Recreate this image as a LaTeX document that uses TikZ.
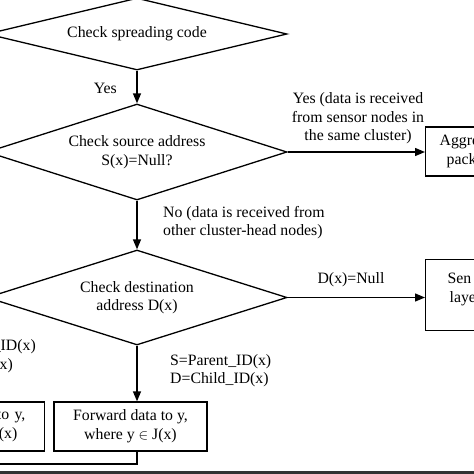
\documentclass[tikz,border=0pt]{standalone}
\usepackage{fontspec}
\setmainfont{Liberation Serif}
\usetikzlibrary{shapes.geometric,arrows.meta,calc}
\tikzset{
  dia/.style={draw, shape=diamond, minimum width=300pt, inner sep=0pt, line width=1.3pt},
  box/.style={draw, rectangle, line width=1.3pt},
  lbl/.style={inner sep=0pt},
  conn/.style={line width=1.3pt},
  arr/.style={line width=1.3pt, -{Triangle[length=10pt,width=8pt]}},
}
\begin{document}
\begin{tikzpicture}[x=1pt,y=-1pt, font=\fontsize{15.8}{18.6}\selectfont]
\useasboundingbox (0,0) rectangle (474,474);
\clip (0,0) rectangle (474,474);
\fill[white] (0,0) rectangle (474,474);
% decisions
\node[dia, aspect=4.17, minimum height=72pt] (d1) at (137,34) {\raisebox{3pt}{Check spreading code}};
\node[dia, aspect=3.125, minimum height=96pt, align=center] (d2) at (137,152) {Check source address\\S(x)=Null?};
\node[dia, aspect=3.16, minimum height=95pt, align=center] (d3) at (137,297.5) {Check destination\\address D(x)};
% boxes
\node[box, anchor=west, minimum height=49pt, text width=120pt, align=left, inner xsep=14pt] (agg) at (425,151.5) {Aggre\\\hspace*{7pt}pack};
\node[box, anchor=north west, minimum height=71pt, text width=120pt, align=left, inner xsep=22pt] (send) at (425,259) {Sen\\\hspace*{2pt}laye\\[-10pt]\strut};
\node[box, minimum width=153pt, minimum height=49pt, align=center, inner sep=0pt] (fwd) at (130.5,426.5) {Forward data to y,\\where y $\in$ J(x)};
\node[box, anchor=east, minimum height=49pt, text width=100pt, align=right, inner xsep=19pt] (lbox) at (45,426.5) {to y,\\(x)\rule{8pt}{0pt}};
% connectors
\draw[arr] (d1.south) -- (d2.north);
\draw[arr] (d2.east) -- (d2.east -| agg.west);
\draw[arr] (d2.south) -- (d3.north);
\draw[arr] (d3.east) -- (d3.east -| send.west);
\draw[arr] (d3.south) -- (d3.south |- fwd.north);
\coordinate (loopend) at (-10,464);
\draw[conn] (d3.south |- fwd.south) |- (loopend);
% labels
\node[lbl, anchor=east] (lyes) at (117,88) {Yes};
\node[lbl, align=center] (lyes2) at (358,118.5) {Yes (data is received\\from sensor nodes in\\the same cluster)};
\node[lbl, anchor=west, align=left] (lno) at (163,222.5) {No (data is received from\\other cluster-head nodes)};
\node[lbl] (ldnull) at (351,280) {D(x)=Null};
\node[lbl, anchor=west, align=left] (lsp) at (170,370.5) {S=Parent\_ID(x)\\D=Child\_ID(x)};
\node[lbl, anchor=east, align=right] (lleft) at (36,356) {\_ID(x)\\x)\hspace*{23pt}};
% bottom edge
\fill[black!80] (0,471) rectangle (474,474);
\end{tikzpicture}
\end{document}
